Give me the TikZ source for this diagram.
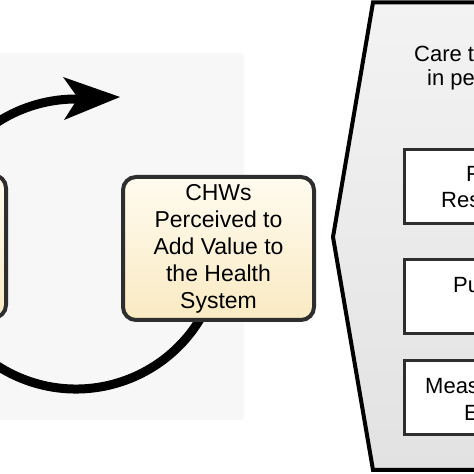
\documentclass[tikz,border=0pt]{standalone}
\usepackage{fontspec}
\setmainfont{Liberation Sans}
\definecolor{panelgray}{HTML}{F7F7F7}
\definecolor{boxedge}{HTML}{2E2E2E}
\definecolor{creamtop}{HTML}{FFFBEF}
\definecolor{creambot}{HTML}{F9EAC2}
\definecolor{graytop}{HTML}{F3F3F3}
\definecolor{graybot}{HTML}{E2E2E2}
\tikzset{
  loopbox/.style={draw=boxedge, line width=4pt, rounded corners=13pt,
    top color=creamtop, bottom color=creambot, inner sep=0pt,
    minimum width=191pt, minimum height=143pt, align=center,
    font=\fontsize{23}{27}\selectfont},
  itembox/.style={draw=boxedge, line width=3.5pt, fill=white, inner sep=0pt,
    anchor=south west, minimum width=100pt, minimum height=74pt},
  frag/.style={anchor=base west, inner sep=0pt, font=\fontsize{22}{26}\selectfont},
  loopline/.style={line width=9pt, black},
}
\begin{document}
\begin{tikzpicture}[x=1pt,y=1pt]
\useasboundingbox (0,0) rectangle (474,474);
\clip (0,0) rectangle (474,474);
% background panel
\fill[panelgray, rounded corners=3pt] (-10,54) rectangle (244,421);
% loop arrow
\draw[loopline] (76,230) ++(-25:145) arc[start angle=-25, end angle=-271, radius=145];
\fill[black] (120,377) -- (63,397) -- (78,376) -- (64,354) -- cycle;
% left (partial) box
\node[loopbox] (leftbox) at (-89.5,227.5) {};
% CHW box
\node[loopbox] (chw) at (218.5,225.5) {CHWs\\Perceived to\\Add Value to\\the Health\\System};
% right chevron panel
\draw[line width=4pt, top color=graytop, bottom color=graybot]
  (490,471.5) -- (373,471.5) -- (333,237) -- (373,4) -- (490,4);
\node[frag] (care) at (414,412) {Care t};
\node[frag] (inpe) at (427,388) {in pe};
% inner boxes
\node[itembox] (b1) at (402.75,248.75) {};
\node[itembox] (b2) at (402.75,138.75) {};
\node[itembox] (b3) at (402.75,37.75) {};
\node[frag] (t1a) at (466,292) {F};
\node[frag] (t1b) at (441,266) {Res};
\node[frag] (t2a) at (453,181) {Pu};
\node[frag] (t3a) at (425,80) {Meas};
\node[frag] (t3b) at (464,53) {E};
\end{tikzpicture}
\end{document}
